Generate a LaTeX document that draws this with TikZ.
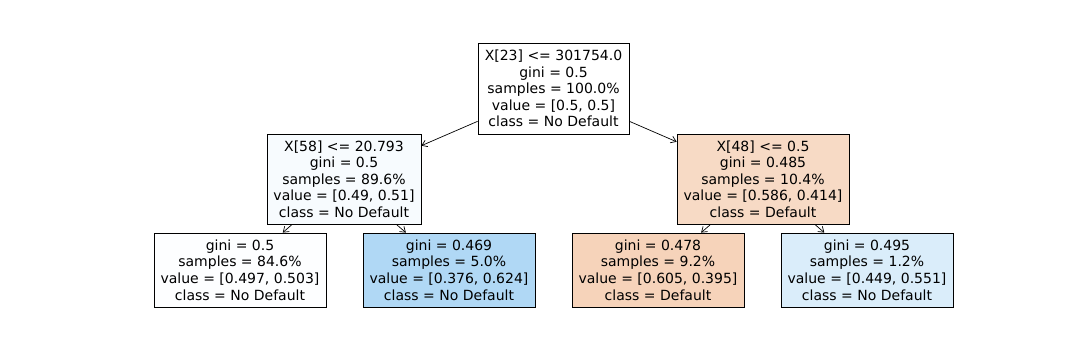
\documentclass[tikz,border=0pt]{standalone}
\usepackage{fontspec}
\setmainfont{DejaVu Sans}
\usetikzlibrary{arrows.meta}
\definecolor{cRoot}{RGB}{255,255,255}
\definecolor{cL}{RGB}{247,251,254}
\definecolor{cR}{RGB}{247,218,197}
\definecolor{cLL}{RGB}{253,254,255}
\definecolor{cLR}{RGB}{176,216,245}
\definecolor{cRL}{RGB}{246,211,186}
\definecolor{cRR}{RGB}{218,237,250}
\tikzset{
  treebox/.style={draw=black, line width=0.8pt, rectangle, inner sep=0pt, align=center,
    font=\fontsize{14}{16.6}\selectfont},
  edge/.style={-{Straight Barb[length=5pt,width=7pt]}, line width=0.7pt, black}
}
\begin{document}
\begin{tikzpicture}[x=1pt,y=-1pt]
\useasboundingbox (0,0) rectangle (1080,360);
\node[treebox, fill=cRoot, minimum width=151pt, minimum height=91pt] (root) at (553.5,88.5)
  {X[23] <= 301754.0\\gini = 0.5\\samples = 100.0\%\\value = [0.5, 0.5]\\class = No Default};
\node[treebox, fill=cL, minimum width=154pt, minimum height=90pt] (l) at (344,179)
  {X[58] <= 20.793\\gini = 0.5\\samples = 89.6\%\\value = [0.49, 0.51]\\class = No Default};
\node[treebox, fill=cR, minimum width=172pt, minimum height=90pt] (r) at (763,179)
  {X[48] <= 0.5\\gini = 0.485\\samples = 10.4\%\\value = [0.586, 0.414]\\class = Default};
\node[treebox, fill=cLL, minimum width=172pt, minimum height=74pt] (ll) at (240,270)
  {gini = 0.5\\samples = 84.6\%\\value = [0.497, 0.503]\\class = No Default};
\node[treebox, fill=cLR, minimum width=172pt, minimum height=74pt] (lr) at (449,270)
  {gini = 0.469\\samples = 5.0\%\\value = [0.376, 0.624]\\class = No Default};
\node[treebox, fill=cRL, minimum width=172pt, minimum height=74pt] (rl) at (658,270)
  {gini = 0.478\\samples = 9.2\%\\value = [0.605, 0.395]\\class = Default};
\node[treebox, fill=cRR, minimum width=172pt, minimum height=74pt] (rr) at (867,270)
  {gini = 0.495\\samples = 1.2\%\\value = [0.449, 0.551]\\class = No Default};
\draw[edge] (root) -- (l);
\draw[edge] (root) -- (r);
\draw[edge] (l) -- (ll);
\draw[edge] (l) -- (lr);
\draw[edge] (r) -- (rl);
\draw[edge] (r) -- (rr);
\end{tikzpicture}
\end{document}
